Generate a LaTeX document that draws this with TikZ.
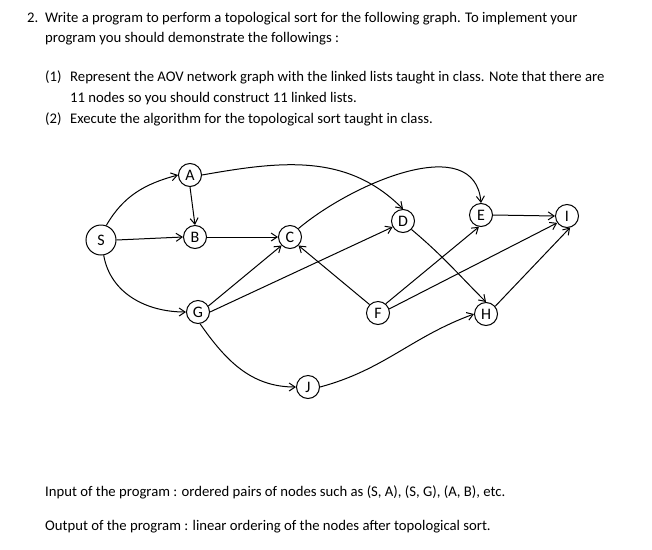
\documentclass[tikz,border=0pt]{standalone}
\usepackage{fontspec}
\setmainfont{Carlito}
\usetikzlibrary{arrows.meta}
\tikzset{
  vert/.style={
    draw=black,
    circle,
    line width=1pt,
    inner sep=0pt,
    minimum size=23pt,
    font=\fontsize{16}{16}\selectfont
  },
  arrow/.style={
    -{Straight Barb[length=6pt,width=8pt]},
    line width=1pt
  },
  para/.style={
    anchor=base west,
    inner sep=0pt,
    font=\fontsize{14.7}{20}\selectfont
  }
}

\begin{document}
\begin{tikzpicture}[x=1pt,y=-1pt]
\useasboundingbox (0,0) rectangle (652,549);

% question text
\node[para] (num) at (27,22) {2.};
\node[para] (q1) at (45,22) {Write a program to perform a topological sort for the following graph. To implement your};
\node[para] (q2) at (45,42) {program you should demonstrate the followings :};
\node[para] (p1) at (45,81) {(1)};
\node[para] (p1a) at (70,81) {Represent the AOV network graph with the linked lists taught in class. Note that there are};
\node[para] (p1b) at (70,102) {11 nodes so you should construct 11 linked lists.};
\node[para] (p2) at (45,123) {(2)};
\node[para] (p2a) at (70,123) {Execute the algorithm for the topological sort taught in class.};

% graph
\node[vert, minimum size=30pt] (S) at (101,240) {S};
\node[vert] (A) at (190,175) {A};
\node[vert] (B) at (195,237) {B};
\node[vert] (C) at (290,237) {C};
\node[vert] (G) at (198,312) {G};
\node[vert] (J) at (308,387) {J};
\node[vert] (D) at (403,221) {D};
\node[vert] (E) at (481,215) {E};
\node[vert] (I) at (567,216) {I};
\node[vert] (F) at (378,313) {F};
\node[vert] (H) at (486,314) {H};

\draw[arrow] (S.70) to[out=60, in=195] (A.west);
\draw[arrow] (S.east) -- (B.west);
\draw[arrow] (S.-80) to[out=-80, in=180] (G.west);
\draw[arrow] (A.south) -- (B.north);
\draw[arrow] (A.east) to[out=10, in=135] (D.north);
\draw[arrow] (B.east) -- (C.west);
\draw[arrow] (C.45) to[out=40, in=95] (E.north);
\draw[arrow] (G.30) -- (C.-135);
\draw[arrow] (G.east) -- (D.-150);
\draw[arrow] (G.-80) to[out=-55, in=180] (J.west);
\draw[arrow] (F.135) -- (C.-45);
\draw[arrow] (F.50) -- (E.-100);
\draw[arrow] (F.20) -- (I.-145);
\draw[arrow] (D.-45) to[out=-40, in=135] (H.north);
\draw[arrow] (E.east) -- (I.west);
\draw[arrow] (H.40) -- (I.-75);
\draw[arrow] (J.east) to[out=15, in=200] (H.west);

% input / output
\node[para] (inp) at (45,496) {Input of the program : ordered pairs of nodes such as (S, A), (S, G), (A, B), etc.};
\node[para] (outp) at (45,530) {Output of the program : linear ordering of the nodes after topological sort.};

\end{tikzpicture}
\end{document}
